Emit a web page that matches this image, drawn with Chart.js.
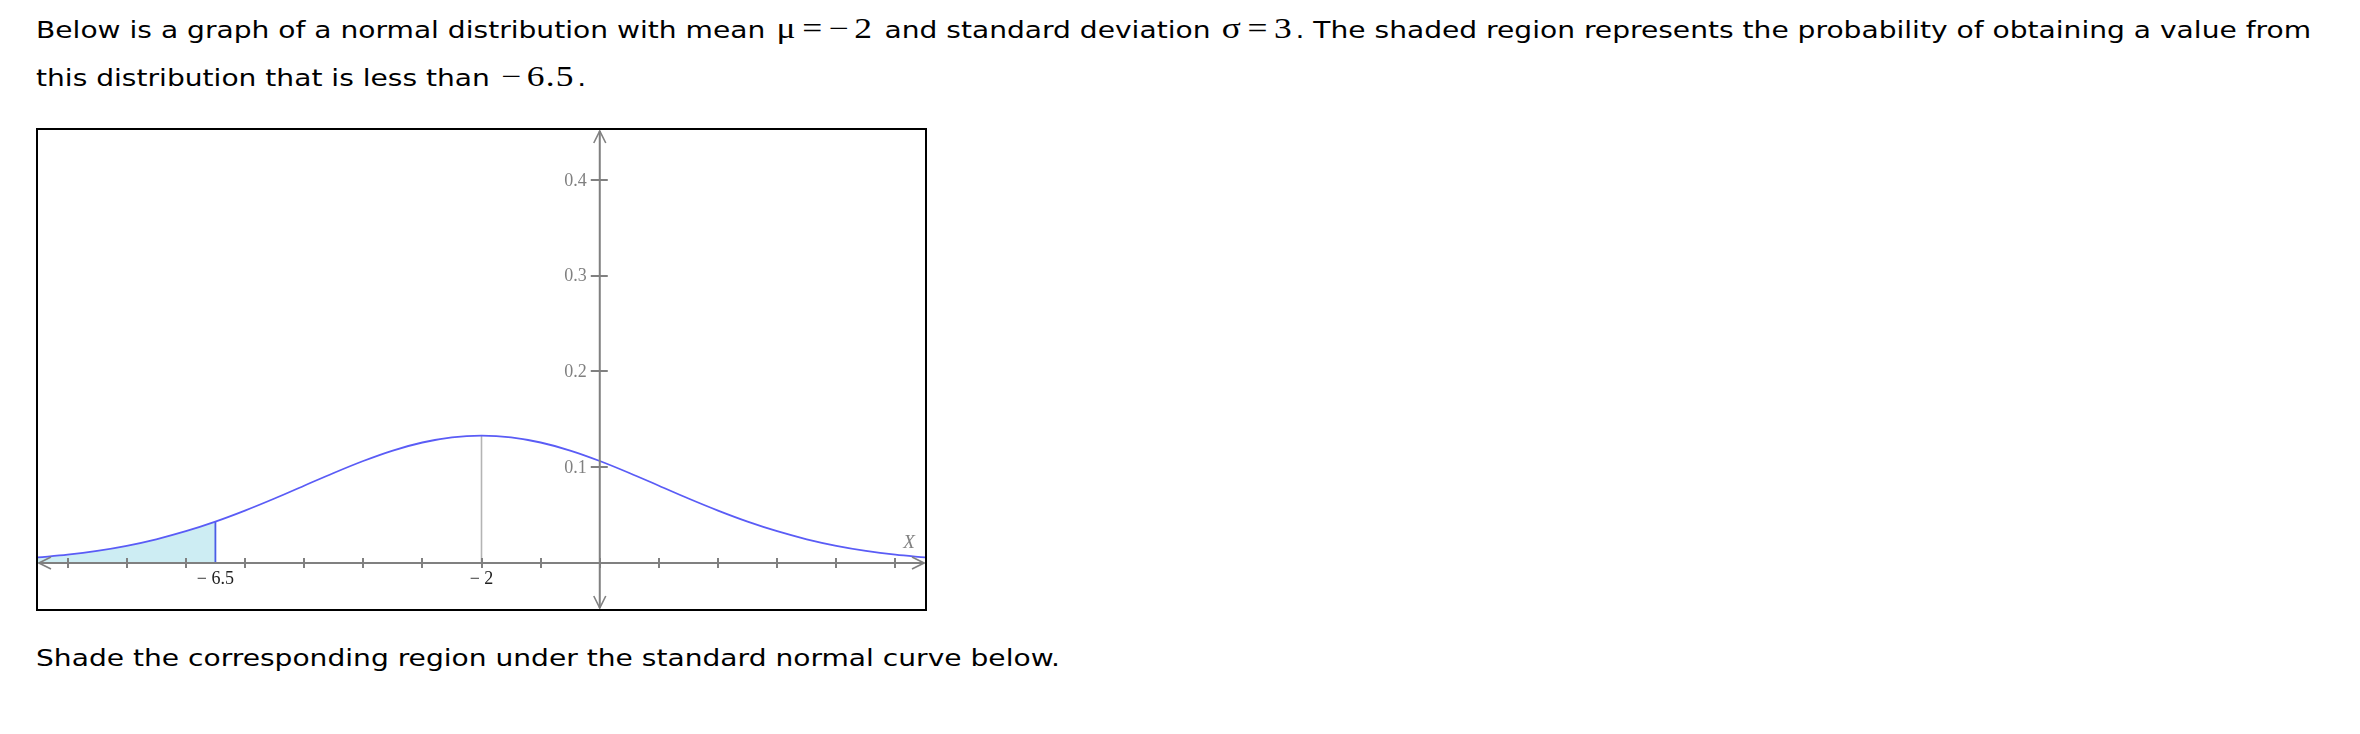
<!DOCTYPE html>
<html>
<head>
<meta charset="utf-8">
<script src="https://cdn.jsdelivr.net/npm/chart.js@4.4.0/dist/chart.umd.min.js"></script>
<style>
  html, body { margin: 0; padding: 0; background: #fff; }
  body { width: 2360px; height: 734px; position: relative; overflow: hidden; }
  .txt { position: absolute; left: 36px; font-family: "DejaVu Sans", Verdana, sans-serif; font-size: 23px; line-height: 48px; color: #000; white-space: nowrap; transform: scaleX(1.222); transform-origin: 0 0; }
  .m { font-family: "Liberation Serif", "Times New Roman", serif; font-size: 29px; letter-spacing: 1px; margin: 0 2px; }
  .op { margin: 0 0.15em; }
  .neg { margin-right: 0.12em; }
  #box { position: absolute; left: 36px; top: 128px; width: 891px; height: 483px; border: 2px solid #000; box-sizing: border-box; }
  #c { display: block; }
</style>
</head>
<body>
<div class="txt" style="top:4px">Below is a graph of a normal distribution with mean <span class="m">μ<span class="op">=</span><span class="neg">−</span>2</span> and standard deviation <span class="m">σ<span class="op">=</span>3</span>. The shaded region represents the probability of obtaining a value from</div>
<div class="txt" style="top:52px">this distribution that is less than <span class="m"><span class="neg">−</span>6.5</span>.</div>
<div id="box"><canvas id="c" width="887" height="479"></canvas></div>
<div class="txt" style="top:634px">Shade the corresponding region under the standard normal curve below.</div>
<script>
// ---- data ----
const curveX = [-9.5,-9,-8.5,-8,-7.5,-7,-6.5,-6,-5.5,-5,-4.5,-4,-3.5,-3,-2.5,-2,-1.5,-1,-0.5,0,0.5,1,1.5,2,2.5,3,3.5,4,4.5,5,5.5];
const curveY = [0.0058,0.0087,0.0127,0.0180,0.0248,0.0332,0.0432,0.0547,0.0673,0.0807,0.0940,0.1065,0.1174,0.1258,0.1312,0.1330,0.1312,0.1258,0.1174,0.1065,0.0940,0.0807,0.0673,0.0547,0.0432,0.0332,0.0248,0.0180,0.0127,0.0087,0.0058];
const shadeUpTo = -6.5;
const meanX = -2;
const xTickValues = [-9,-8,-7,-6,-5,-4,-3,-2,-1,0,1,2,3,4,5];
const xLabelValues = [-6.5, -2];
const xLabelTexts = ['\u2212 6.5', '\u2212 2'];
const yTickValues = [0.1, 0.2, 0.3, 0.4];
const yLabelTexts = ['0.1', '0.2', '0.3', '0.4'];
const xAxisTitle = 'X';

const curvePts = curveX.map((x, i) => ({x: x, y: curveY[i]}));
const shadePts = curvePts.filter(p => p.x <= shadeUpTo);
const cutY = curveY[curveX.indexOf(shadeUpTo)];
const meanY = curveY[curveX.indexOf(meanX)];

const axesPlugin = {
  id: 'axesPlugin',
  afterDatasetsDraw(chart) {
    const ctx = chart.ctx;
    const xs = chart.scales.x, ys = chart.scales.y;
    const ca = chart.chartArea;
    const x0 = xs.getPixelForValue(0);
    const y0 = ys.getPixelForValue(0);
    ctx.save();
    ctx.strokeStyle = '#808080';
    ctx.lineWidth = 2;
    ctx.lineCap = 'butt';
    ctx.beginPath();
    ctx.moveTo(ca.left + 1, y0); ctx.lineTo(ca.right - 1, y0);
    ctx.moveTo(x0, ca.top + 1); ctx.lineTo(x0, ca.bottom - 1);
    ctx.stroke();
    ctx.lineWidth = 1.6;
    ctx.beginPath();
    ctx.moveTo(ca.left + 13, y0 - 6); ctx.lineTo(ca.left + 1, y0); ctx.lineTo(ca.left + 13, y0 + 6);
    ctx.moveTo(ca.right - 13, y0 - 6); ctx.lineTo(ca.right - 1, y0); ctx.lineTo(ca.right - 13, y0 + 6);
    ctx.moveTo(x0 - 6, ca.top + 13); ctx.lineTo(x0, ca.top + 1); ctx.lineTo(x0 + 6, ca.top + 13);
    ctx.moveTo(x0 - 6, ca.bottom - 13); ctx.lineTo(x0, ca.bottom - 1); ctx.lineTo(x0 + 6, ca.bottom - 13);
    ctx.stroke();
    ctx.lineWidth = 2;
    ctx.beginPath();
    xTickValues.forEach(v => {
      const px = Math.round(xs.getPixelForValue(v));
      ctx.moveTo(px, y0 - 5); ctx.lineTo(px, y0 + 5);
    });
    yTickValues.forEach(v => {
      const py = Math.round(ys.getPixelForValue(v));
      ctx.moveTo(x0 - 9, py); ctx.lineTo(x0 + 8, py);
    });
    ctx.stroke();
    ctx.font = '18px "Liberation Serif", "Times New Roman", serif';
    ctx.fillStyle = '#808080';
    ctx.textAlign = 'right';
    ctx.textBaseline = 'middle';
    yTickValues.forEach((v, i) => {
      ctx.fillText(yLabelTexts[i], x0 - 13, ys.getPixelForValue(v) + 1);
    });
    ctx.fillStyle = '#222';
    ctx.textAlign = 'center';
    xLabelValues.forEach((v, i) => {
      ctx.fillText(xLabelTexts[i], xs.getPixelForValue(v), y0 + 16);
    });
    ctx.fillStyle = '#808080';
    ctx.font = 'italic 19px "Liberation Serif", "Times New Roman", serif';
    ctx.fillText(xAxisTitle, ca.right - 16, y0 - 20);
    ctx.restore();
  }
};

new Chart(document.getElementById('c'), {
  type: 'line',
  data: {
    datasets: [
      { data: curvePts, borderColor: '#5a5cf6', borderWidth: 1.8, pointRadius: 0, fill: false, cubicInterpolationMode: 'monotone' },
      { data: [{x: shadeUpTo, y: 0}, {x: shadeUpTo, y: cutY}], borderColor: '#4a5de6', borderWidth: 1.8, pointRadius: 0, fill: false },
      { data: [{x: meanX, y: 0}, {x: meanX, y: meanY}], borderColor: '#b4b4b4', borderWidth: 1.6, pointRadius: 0, fill: false },
      { data: shadePts, borderWidth: 0, borderColor: 'rgba(0,0,0,0)', backgroundColor: '#cdedf3', pointRadius: 0, fill: 'origin', cubicInterpolationMode: 'monotone' }
    ]
  },
  options: {
    responsive: false,
    devicePixelRatio: 1,
    animation: false,
    layout: { padding: 0 },
    plugins: { legend: { display: false }, tooltip: { enabled: false }, title: { display: false } },
    scales: {
      x: { type: 'linear', min: -9.5, max: 5.5, display: false },
      y: { type: 'linear', min: -0.048, max: 0.452, display: false }
    }
  },
  plugins: [axesPlugin]
});
</script>
</body>
</html>
